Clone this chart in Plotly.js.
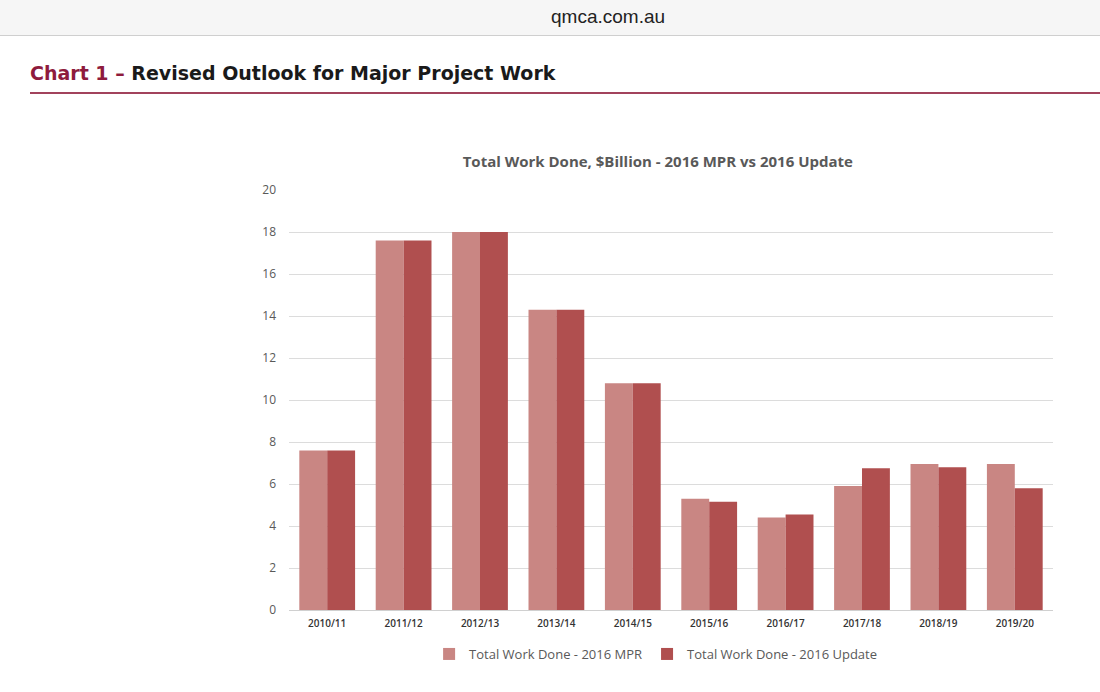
<!DOCTYPE html>
<html>
<head>
<meta charset="utf-8">
<script src="https://cdn.plot.ly/plotly-3.0.1.min.js"></script>
<style>
  html, body { margin: 0; padding: 0; background: #fff; }
  #page { position: relative; width: 1100px; height: 692px; overflow: hidden; }
  #topbar {
    position: absolute; left: 0; top: 0; width: 1100px; height: 35px;
    background: #f6f6f6; border-bottom: 1px solid #cfcfcf;
  }
  #site {
    position: absolute; top: 6px; left: 551px;
    font-family: "Liberation Sans", Arial, sans-serif; font-size: 19px; color: #222;
  }
  #heading {
    position: absolute; left: 30px; top: 62px;
    font-family: "DejaVu Sans", sans-serif; font-weight: 700; font-size: 19px;
    color: #1a1a1a; white-space: nowrap;
  }
  #heading .lead { color: #8e1b3d; }
  #rule {
    position: absolute; left: 30px; top: 92px; width: 1070px; height: 2px;
    background: #a2435c;
  }
  #chart { position: absolute; left: 0; top: 0; width: 1100px; height: 692px; }
</style>
</head>
<body>
<div id="page">
  <div id="topbar"><span id="site">qmca.com.au</span></div>
  <div id="heading"><span class="lead">Chart 1 –</span> Revised Outlook for Major Project Work</div>
  <div id="rule"></div>
  <div id="chart"></div>
</div>
<script>
const years = ["2010/11", "2011/12", "2012/13", "2013/14", "2014/15",
               "2015/16", "2016/17", "2017/18", "2018/19", "2019/20"];
const mpr2016 = [7.6, 17.6, 18.0, 14.3, 10.8, 5.3, 4.4, 5.9, 6.95, 6.95];
const update2016 = [7.6, 17.6, 18.0, 14.3, 10.8, 5.15, 4.55, 6.75, 6.8, 5.8];
const yTicks = [0, 2, 4, 6, 8, 10, 12, 14, 16, 18, 20];

const traces = [
  {
    x: years, y: mpr2016, type: "bar",
    name: "Total Work Done - 2016 MPR",
    marker: { color: "#c98683" },
    hoverinfo: "x+y"
  },
  {
    x: years, y: update2016, type: "bar",
    name: "Total Work Done - 2016 Update",
    marker: { color: "#b04f4f" },
    hoverinfo: "x+y"
  }
];

Plotly.newPlot("chart", traces, {
  width: 1100,
  height: 692,
  barmode: "group",
  bargap: 0.27,
  bargroupgap: 0,
  margin: { l: 289, r: 47, t: 190, b: 82 },
  paper_bgcolor: "rgba(0,0,0,0)",
  plot_bgcolor: "rgba(0,0,0,0)",
  font: { family: "Open Sans, sans-serif", color: "#595959" },
  title: {
    text: "<b>Total Work Done, $Billion - 2016 MPR vs 2016 Update</b>",
    font: { size: 15, color: "#595959" },
    xref: "container", x: 0.598, xanchor: "center",
    yref: "container", y: 1 - 162 / 692, yanchor: "middle"
  },
  xaxis: {
    type: "category",
    showgrid: false,
    showline: false,
    ticks: "",
    tickfont: { size: 10, color: "#333333", weight: 600 },
    ticklabelstandoff: 6
  },
  yaxis: {
    range: [0, 20],
    tickvals: yTicks,
    showgrid: true,
    gridcolor: "#dcdcdc",
    gridwidth: 1,
    zeroline: true,
    zerolinecolor: "#d0d0d0",
    zerolinewidth: 1,
    ticks: "",
    tickfont: { size: 12, color: "#595959" },
    ticklabelstandoff: 12
  },
  legend: {
    orientation: "h",
    xref: "container", x: 0.596, xanchor: "center",
    yref: "container", y: 1 - 654 / 692, yanchor: "middle",
    font: { size: 13, color: "#595959" },
    itemwidth: 30,
    traceorder: "normal"
  },
  showlegend: true
}, { displayModeBar: false, staticPlot: true });
</script>
</body>
</html>
